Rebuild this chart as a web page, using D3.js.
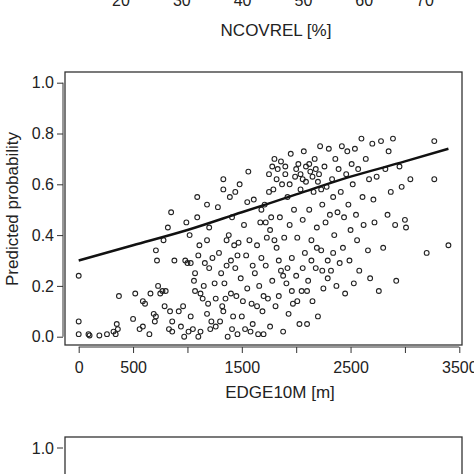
<!DOCTYPE html>
<html><head><meta charset="utf-8">
<script src="https://cdn.jsdelivr.net/npm/d3@7"></script>
<style>body{margin:0;background:#fff}svg{display:block}text{font-family:"Liberation Sans",Arial,sans-serif;fill:#222}</style>
</head><body>
<script>
// scatter of [EDGE10M, predicted probability]
const points = [[0,0.24],[0,0.06],[0,0.01],[90,0.01],[100,0.005],[190,0.005],[260,0.01],[320,0.02],[340,0.01],[350,0.05],[360,0.03],[370,0.16],[500,0.07],[520,0.17],[560,0.03],[590,0.04],[590,0.14],[610,0.13],[650,0.01],[660,0.17],[690,0.09],[700,0.06],[710,0.34],[710,0.08],[720,0.30],[730,0.20],[750,0.17],[770,0.18],[780,0.38],[790,0.12],[800,0.18],[820,0.43],[830,0.03],[840,0.10],[850,0.49],[860,0.02],[860,0.06],[880,0.30],[920,0.10],[940,0.04],[960,0.12],[970,0.00],[980,0.30],[990,0.45],[1000,0.29],[1010,0.02],[1020,0.40],[1030,0.29],[1030,0.08],[1050,0.03],[1060,0.22],[1070,0.18],[1070,0.25],[1090,0.47],[1090,0.55],[1100,0.00],[1100,0.32],[1110,0.36],[1120,0.17],[1120,0.02],[1140,0.15],[1150,0.20],[1160,0.29],[1180,0.52],[1180,0.38],[1190,0.13],[1200,0.27],[1200,0.43],[1210,0.03],[1220,0.06],[1230,0.31],[1250,0.21],[1260,0.04],[1280,0.51],[1290,0.33],[1300,0.06],[1310,0.25],[1320,0.12],[1330,0.58],[1330,0.62],[1340,0.21],[1350,0.15],[1360,0.38],[1370,0.00],[1380,0.40],[1390,0.55],[1400,0.30],[1400,0.17],[1410,0.47],[1410,0.03],[1420,0.08],[1430,0.36],[1440,0.27],[1440,0.57],[1450,0.16],[1460,0.01],[1470,0.37],[1480,0.60],[1490,0.23],[1500,0.08],[1510,0.14],[1520,0.44],[1530,0.03],[1540,0.32],[1550,0.53],[1560,0.65],[1570,0.38],[1580,0.02],[1590,0.13],[1600,0.05],[1610,0.54],[1620,0.25],[1640,0.36],[1650,0.01],[1660,0.20],[1670,0.45],[1680,0.31],[1690,0.10],[1700,0.01],[1710,0.52],[1720,0.28],[1730,0.39],[1740,0.15],[1750,0.64],[1760,0.04],[1770,0.47],[1780,0.22],[1790,0.58],[1800,0.70],[1810,0.12],[1820,0.35],[1830,0.66],[1840,0.16],[1850,0.47],[1860,0.26],[1870,0.60],[1880,0.02],[1890,0.39],[1900,0.67],[1910,0.21],[1920,0.55],[1930,0.09],[1940,0.44],[1950,0.72],[1960,0.31],[1970,0.13],[1980,0.50],[1990,0.63],[2000,0.24],[2010,0.39],[2020,0.68],[2030,0.05],[2040,0.58],[2050,0.18],[2060,0.46],[2070,0.73],[2080,0.33],[2090,0.61],[2100,0.05],[2110,0.22],[2120,0.50],[2130,0.65],[2140,0.38],[2150,0.14],[2160,0.57],[2170,0.70],[2180,0.27],[2190,0.43],[2200,0.08],[2210,0.64],[2220,0.75],[2230,0.34],[2240,0.52],[2250,0.19],[2260,0.67],[2270,0.45],[2280,0.59],[2290,0.30],[2300,0.74],[2310,0.48],[2320,0.26],[2330,0.62],[2340,0.55],[2350,0.40],[2360,0.70],[2370,0.20],[2380,0.49],[2390,0.66],[2400,0.29],[2410,0.57],[2420,0.75],[2430,0.35],[2440,0.47],[2450,0.17],[2460,0.64],[2470,0.73],[2480,0.52],[2490,0.30],[2500,0.42],[2510,0.68],[2520,0.60],[2530,0.21],[2540,0.74],[2550,0.48],[2560,0.38],[2570,0.66],[2580,0.26],[2600,0.78],[2610,0.55],[2620,0.44],[2640,0.70],[2660,0.34],[2670,0.62],[2680,0.23],[2700,0.76],[2710,0.54],[2720,0.45],[2740,0.63],[2760,0.18],[2780,0.77],[2800,0.35],[2820,0.66],[2840,0.48],[2850,0.73],[2870,0.57],[2890,0.78],[2910,0.44],[2920,0.22],[2950,0.67],[2970,0.59],[3000,0.46],[3010,0.43],[3050,0.62],[3200,0.33],[3270,0.77],[3270,0.62],[3400,0.36],
  [1750,0.57],[1780,0.67],[1820,0.62],[1860,0.69],[1900,0.64],[1940,0.60],[2000,0.66],[2040,0.64],[2060,0.62],[2090,0.67],[2120,0.68],[2150,0.63],[2180,0.66],[2200,0.61],[2230,0.58],[1680,0.50],[1720,0.45],[1760,0.42],[1800,0.38],[1840,0.30],[1880,0.24],[1920,0.27],[1960,0.18],[2010,0.14],[2060,0.27],[2100,0.18],[2140,0.30],[2190,0.35],[2240,0.26],[2290,0.23],[2340,0.33],[1550,0.19],[1600,0.28],[1640,0.12],[1700,0.16],[1330,0.10],[1260,0.15],[1180,0.09],[1360,0.28],[1460,0.32]]
const lineX = [0, 500, 1000, 1500, 2000, 2500, 3000, 3400]
const lineY = [0.30, 0.36, 0.42, 0.49, 0.56, 0.63, 0.69, 0.74]
const xTicks = [0, 500, 1000, 1500, 2000, 2500, 3000, 3500]
const xTickLabels = ["0", "500", "", "1500", "", "2500", "", "3500"]
const yTicks = [0, 0.2, 0.4, 0.6, 0.8, 1.0]
const topTicks = [20, 30, 40, 50, 60, 70]

const svg = d3.select("body").append("svg").attr("width", 474).attr("height", 474)

// remnant of the panel above (cut off at the top, as in the source)
const xTop = d3.scaleLinear().domain([20, 70]).range([121, 425])
svg.selectAll(".tt").data(topTicks).join("text")
  .attr("x", d => xTop(d)).attr("y", 6).attr("text-anchor", "middle").attr("font-size", 16).text(d => d)
svg.append("text").attr("x", 276).attr("y", 36).attr("text-anchor", "middle").attr("font-size", 17).text("NCOVREL [%]")

const x = d3.scaleLinear().domain([0, 3500]).range([78.7, 459.3])
const y = d3.scaleLinear().domain([0, 1]).range([336.7, 82.7])

svg.append("rect").attr("x", 65).attr("y", 72).attr("width", 397).attr("height", 273)
  .attr("fill", "none").attr("stroke", "#333").attr("stroke-width", 1.3)

const gx = svg.append("g").attr("transform", "translate(0,347)")
  .call(d3.axisBottom(x).tickValues(xTicks).tickSize(6).tickFormat((d, i) => xTickLabels[i]))
gx.select(".domain").attr("stroke", "#333").attr("d", `M${x(0)},0H${x(3500)}`)
gx.selectAll(".tick line").attr("stroke", "#333")
gx.selectAll(".tick text").attr("font-size", 16).attr("fill", "#222").attr("dy", "1.05em")
  .attr("font-family", "Liberation Sans, Arial, sans-serif")

const gy = svg.append("g").attr("transform", "translate(63,0)")
  .call(d3.axisLeft(y).tickValues(yTicks).tickSize(6).tickFormat(d3.format(".1f")))
gy.select(".domain").attr("stroke", "#333").attr("d", `M0,${y(0)}V${y(1)}`)
gy.selectAll(".tick line").attr("stroke", "#333")
gy.selectAll(".tick text").attr("font-size", 16).attr("fill", "#222")
  .attr("font-family", "Liberation Sans, Arial, sans-serif")

svg.append("text").attr("transform", "translate(18,209) rotate(-90)").attr("text-anchor", "middle")
  .attr("font-size", 17).text("Predicted probability")
svg.append("text").attr("x", 280).attr("y", 398).attr("text-anchor", "middle")
  .attr("font-size", 17).text("EDGE10M [m]")

svg.append("g").selectAll("circle").data(points).join("circle")
  .attr("cx", d => x(d[0])).attr("cy", d => y(d[1])).attr("r", 2.4)
  .attr("fill", "none").attr("stroke", "#222").attr("stroke-width", 1.1)

const line = d3.line().x((d, i) => x(lineX[i])).y((d, i) => y(lineY[i])).curve(d3.curveMonotoneX)
svg.append("path").datum(lineX).attr("d", line).attr("fill", "none").attr("stroke", "#111").attr("stroke-width", 2.4)

// top of the panel below
svg.append("rect").attr("x", 65).attr("y", 437).attr("width", 397).attr("height", 60)
  .attr("fill", "none").attr("stroke", "#333").attr("stroke-width", 1.3)
svg.append("line").attr("x1", 57).attr("x2", 63).attr("y1", 448).attr("y2", 448).attr("stroke", "#333")
svg.append("text").attr("x", 54).attr("y", 454).attr("text-anchor", "end").attr("font-size", 16).text("1.0")
</script>
</body></html>
